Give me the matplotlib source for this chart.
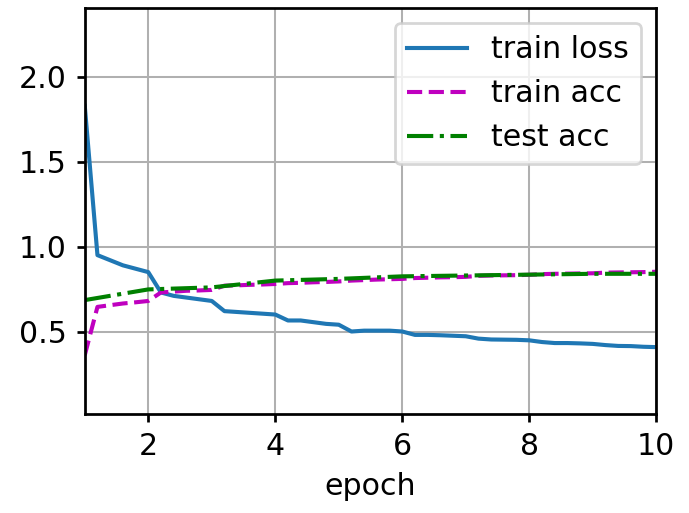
import matplotlib
matplotlib.use('Agg')
import matplotlib.pyplot as plt
import numpy as np

# %% data
epochs_fine = np.round(np.arange(1.0, 10.01, 0.2), 1)
train_loss = [1.83, 0.95, 0.92, 0.89, 0.87, 0.85,
              0.73, 0.71, 0.70, 0.69, 0.68,
              0.62, 0.615, 0.61, 0.605, 0.60,
              0.565, 0.565, 0.555, 0.545, 0.54,
              0.50, 0.505, 0.505, 0.505, 0.50,
              0.48, 0.48, 0.478, 0.475, 0.472,
              0.458, 0.453, 0.452, 0.451, 0.448,
              0.438, 0.432, 0.432, 0.430, 0.427,
              0.42, 0.415, 0.414, 0.41, 0.408]
train_acc = [0.36, 0.645, 0.655, 0.665, 0.672, 0.68,
             0.73, 0.735, 0.74, 0.742, 0.745,
             0.77, 0.772, 0.775, 0.777, 0.78,
             0.785, 0.787, 0.79, 0.792, 0.795,
             0.80, 0.803, 0.806, 0.808, 0.81,
             0.815, 0.817, 0.819, 0.82, 0.822,
             0.828, 0.83, 0.831, 0.832, 0.834,
             0.838, 0.84, 0.841, 0.842, 0.843,
             0.847, 0.848, 0.849, 0.85, 0.852]
epochs = [1, 2, 3, 4, 5, 6, 7, 8, 9, 10]
test_acc = [0.685, 0.748, 0.76, 0.80, 0.81, 0.825, 0.83, 0.835, 0.84, 0.84]

# %% style
plt.rcParams['font.size'] = 11
plt.rcParams['axes.linewidth'] = 1.0
plt.rcParams['xtick.major.width'] = 1.0
plt.rcParams['ytick.major.width'] = 1.0
plt.rcParams['xtick.major.size'] = 3.0
plt.rcParams['ytick.major.size'] = 3.0
plt.rcParams['grid.linewidth'] = 0.75

# %% plot
fig, ax = plt.subplots(figsize=(3.5, 2.606), dpi=196.86)
fig.subplots_adjust(left=0.123, right=0.9525, top=0.984, bottom=0.193)

ax.plot(epochs_fine, train_loss, '-', color='#1f77b4', label='train loss')
ax.plot(epochs_fine, train_acc, 'm--', label='train acc')
ax.plot(epochs, test_acc, 'g-.', label='test acc')

ax.set_xlim(1, 10)
ax.set_ylim(0.014, 2.405)
ax.set_xticks([2, 4, 6, 8, 10])
ax.set_yticks([0.5, 1.0, 1.5, 2.0])
ax.set_xlabel('epoch')
ax.grid()
ax.legend(loc='upper right')

fig.savefig('out.png')
